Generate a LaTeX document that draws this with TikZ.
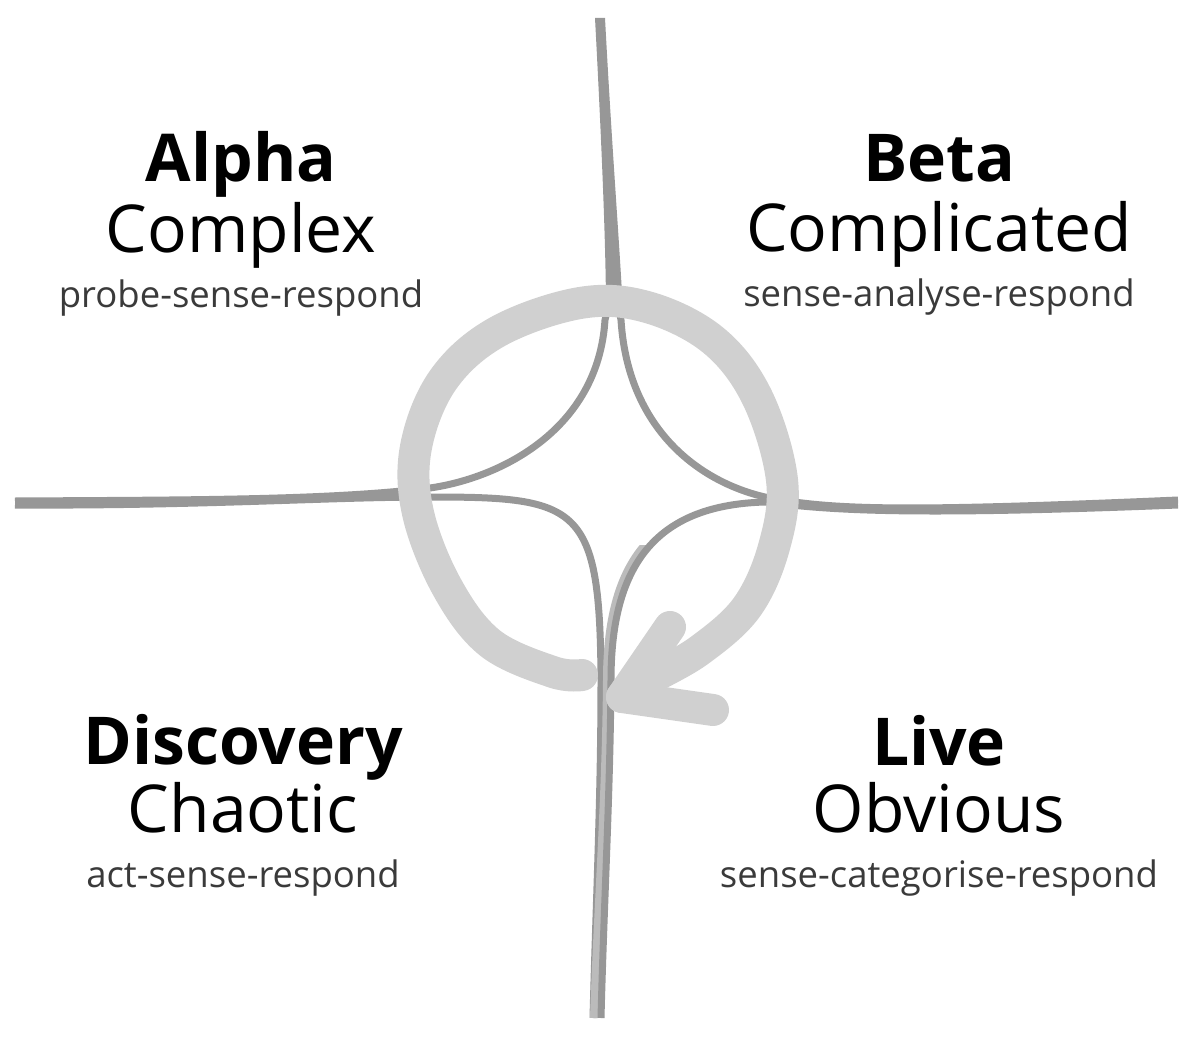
\documentclass[tikz,border=0pt]{standalone}
\usepackage{fontspec}
\setmainfont{Open Sans}
\definecolor{lineg}{HTML}{979797}
\definecolor{ringg}{HTML}{D0D0D0}
\definecolor{lightg}{HTML}{BBBBBB}
\definecolor{subg}{HTML}{3A3A3A}
\tikzset{
  boundary/.style={draw=lineg, line width=7pt, line cap=butt},
  lightboundary/.style={draw=lightg, line width=8pt, line cap=butt},
  ring/.style={draw=ringg, line width=32pt, line cap=round, line join=round},
  titletext/.style={anchor=base, inner sep=0pt, font=\fontsize{66}{72}\selectfont\bfseries},
  domaintext/.style={anchor=base, inner sep=0pt, font=\fontsize{66}{72}\selectfont},
  approachtext/.style={anchor=base, inner sep=0pt, text=subg, font=\fontsize{36.5}{42}\selectfont},
}
\begin{document}
\begin{tikzpicture}[x=1pt,y=-1pt]
\useasboundingbox (0,0) rectangle (1200,1046);
% key points
\coordinate (topA) at (599,20);
\coordinate (topB) at (603,20);
\coordinate (leftA) at (15,501);
\coordinate (leftB) at (15,505);
\coordinate (rightA) at (1178,500);
\coordinate (rightB) at (1178,505);
\coordinate (botA) at (593,1018);
\coordinate (botB) at (601,1018);
\coordinate (nw) at (430,488);
\coordinate (sw) at (430,497);
\coordinate (ne) at (765,497);
\coordinate (se) at (765,502);
% top stem (tapered)
\fill[lineg] (595,18) .. controls (602,150) and (606,250) .. (606,312)
  -- (623,312) .. controls (620,250) and (612,150) .. (605,18) -- cycle;
% top-left boundary
\draw[boundary] (609,300) .. controls (608,310) and (606,315) .. (605,320)
  .. controls (598,430) and (500,478) .. (nw)
  .. controls (330,500) and (200,500) .. (leftA);
% top-right boundary
\draw[boundary] (619,300) .. controls (619,310) and (620,315) .. (621,320)
  .. controls (628,430) and (700,482) .. (ne)
  .. controls (830,510) and (900,512) .. (rightA);
% bottom-left boundary
\draw[boundary] (leftB) .. controls (200,506) and (330,497) .. (sw)
  .. controls (580,497) and (600,505) .. (601,680)
  .. controls (601,800) and (596,900) .. (botA);
% light strip beside the bottom-right boundary
\begin{scope}
  \clip (0,545) rectangle (1200,1046);
  \draw[lightboundary] (761,500) .. controls (656,503) and (607,558) .. (607,680)
    .. controls (606,800) and (598,900) .. (594,1018);
\end{scope}
% bottom-right boundary
\draw[boundary] (rightB) .. controls (900,516) and (830,510) .. (se)
  .. controls (660,505) and (611,560) .. (611,680)
  .. controls (610,800) and (604,900) .. (botB);
% cycle arrow
\coordinate (tip) at (622,697);
\coordinate (armA) at (670,627);
\coordinate (armB) at (713,710);
\draw[ring] plot[smooth, tension=0.6] coordinates {
  (582,675) (553,672) (490,643) (447,587) (418,513) (416,447) (443,380)
  (497,332) (580,303) (647,307) (713,340) (757,397) (782,480) (774,547)
  (747,607) (700,650) (650,679) (622,697)};
\draw[ring] (armA) -- (tip) -- (armB);
% texts
\node[titletext]    (alpha) at (241,182) {Alpha};
\node[domaintext]   (complex) at (241,252) {Complex};
\node[approachtext] (probe) at (241,307) {probe-sense-respond};
\node[titletext]    (beta) at (939,182) {Beta};
\node[domaintext]   (complicated) at (939,251) {Complicated};
\node[approachtext] (analyse) at (939,306) {sense-analyse-respond};
\node[titletext]    (discovery) at (243,764) {Discovery};
\node[domaintext]   (chaotic) at (243,832) {Chaotic};
\node[approachtext] (act) at (243,887) {act-sense-respond};
\node[titletext]    (live) at (939,765) {Live};
\node[domaintext]   (obvious) at (939,832) {Obvious};
\node[approachtext] (categorise) at (939,887) {sense-categorise-respond};
\end{tikzpicture}
\end{document}
